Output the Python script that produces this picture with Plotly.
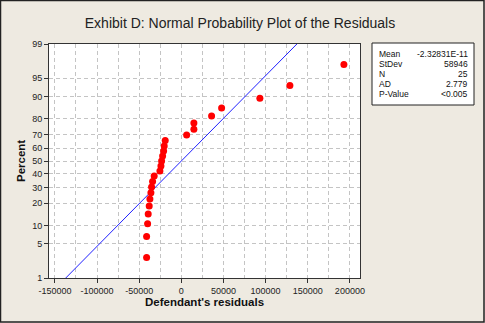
import plotly.graph_objects as go
from statistics import NormalDist

# ---- data ----
residuals = [-41200, -41200, -40000, -39300, -38100, -37300, -36100, -35300, -34100, -32200,
             -25400, -24200, -23400, -22200, -21000, -20300, -19100,
             6300, 14900, 14900, 35900, 47800, 93200, 128800, 192900]
fit_mean = -2.32831e-11
fit_sd = 58946
pct_ticks = [1, 5, 10, 20, 30, 40, 50, 60, 70, 80, 90, 95, 99]
x_ticks = [-150000, -100000, -50000, 0, 50000, 100000, 150000, 200000]
stat_labels = ["Mean", "StDev", "N", "AD", "P-Value"]
stat_values = ["-2.32831E-11", "58946", "25", "2.779", "<0.005"]
title = "Exhibit D: Normal Probability Plot of the Residuals"

nd = NormalDist()
n = len(residuals)
xs = sorted(residuals)
zs = [nd.inv_cdf((i + 1 - 0.3) / (n + 0.4)) for i in range(n)]

zlo, zhi = nd.inv_cdf(0.01), nd.inv_cdf(0.99)
line_x = [fit_mean + fit_sd * zlo, fit_mean + fit_sd * zhi]
line_z = [zlo, zhi]

W, H = 485, 323
L, R, T, B = 49, 125, 44, 45
pw, ph = W - L - R, H - T - B

def px(x):
    return (x - L) / pw

def py(y):
    return (H - B - y) / ph

fig = go.Figure()
fig.add_trace(go.Scatter(x=line_x, y=line_z, mode="lines",
                         line=dict(color="#2020ff", width=1), hoverinfo="skip"))
fig.add_trace(go.Scatter(x=xs, y=zs, mode="markers",
                         marker=dict(color="#ff0000", size=7, line=dict(width=0))))

grid = dict(showgrid=True, gridcolor="#c4c4c4", gridwidth=1, griddash="4px,3px")
fig.update_xaxes(range=[-157000, 212000], tickvals=x_ticks,
                 ticktext=[str(v) for v in x_ticks],
                 ticks="outside", ticklen=4, tickcolor="#333",
                 showline=True, linecolor="#333", linewidth=1, mirror=True,
                 zeroline=False,
                 tickfont=dict(family="Liberation Sans", size=9, color="#222"),
                 minor=dict(dtick=25000, tick0=0, showgrid=True, gridcolor="#c4c4c4",
                            griddash="4px,3px", ticks=""),
                 **grid)
fig.update_yaxes(range=[zlo, zhi], tickvals=[nd.inv_cdf(p / 100) for p in pct_ticks],
                 ticktext=[str(p) for p in pct_ticks],
                 ticks="outside", ticklen=4, tickcolor="#333",
                 showline=True, linecolor="#333", linewidth=1, mirror=True,
                 zeroline=False,
                 tickfont=dict(family="Liberation Sans", size=9, color="#222"),
                 **grid)

shapes = [
    # outer border
    dict(type="rect", xref="paper", yref="paper",
         x0=px(0.5), x1=px(W - 1), y0=py(H - 1), y1=py(0.5),
         line=dict(color="#222", width=1.5), layer="below"),
    # stats box
    dict(type="rect", xref="paper", yref="paper",
         x0=px(372), x1=px(474), y0=py(105), y1=py(43),
         line=dict(color="#222", width=1), fillcolor="white"),
]

ann = []
for i, (lab, val) in enumerate(zip(stat_labels, stat_values)):
    yy = py(54 + 10 * i)
    ann.append(dict(x=px(377), y=yy, xref="paper", yref="paper", text=lab,
                    xanchor="left", yanchor="middle", showarrow=False,
                    font=dict(family="Liberation Sans", size=8.5, color="#111")))
    ann.append(dict(x=px(470), y=yy, xref="paper", yref="paper", text=val,
                    xanchor="right", yanchor="middle", showarrow=False,
                    font=dict(family="Liberation Sans", size=8.5, color="#111")))
ann.append(dict(x=px(21), y=py(161), xref="paper", yref="paper", text="<b>Percent</b>",
                textangle=-90, xanchor="center", yanchor="middle", showarrow=False,
                font=dict(family="Liberation Sans", size=11.5, color="#111")))
ann.append(dict(x=px(204), y=py(302), xref="paper", yref="paper",
                text="<b>Defendant's residuals</b>",
                xanchor="center", yanchor="middle", showarrow=False,
                font=dict(family="Liberation Sans", size=11.5, color="#111")))

fig.update_layout(
    width=W, height=H,
    margin=dict(l=L, r=R, t=T, b=B),
    paper_bgcolor="#eeeae1", plot_bgcolor="white",
    showlegend=False,
    title=dict(text=title, x=240 / W, xanchor="center", y=1 - 23 / H, yanchor="middle",
               font=dict(family="Liberation Sans", size=14, color="#222")),
    shapes=shapes, annotations=ann,
)

fig.write_html("out.html")
